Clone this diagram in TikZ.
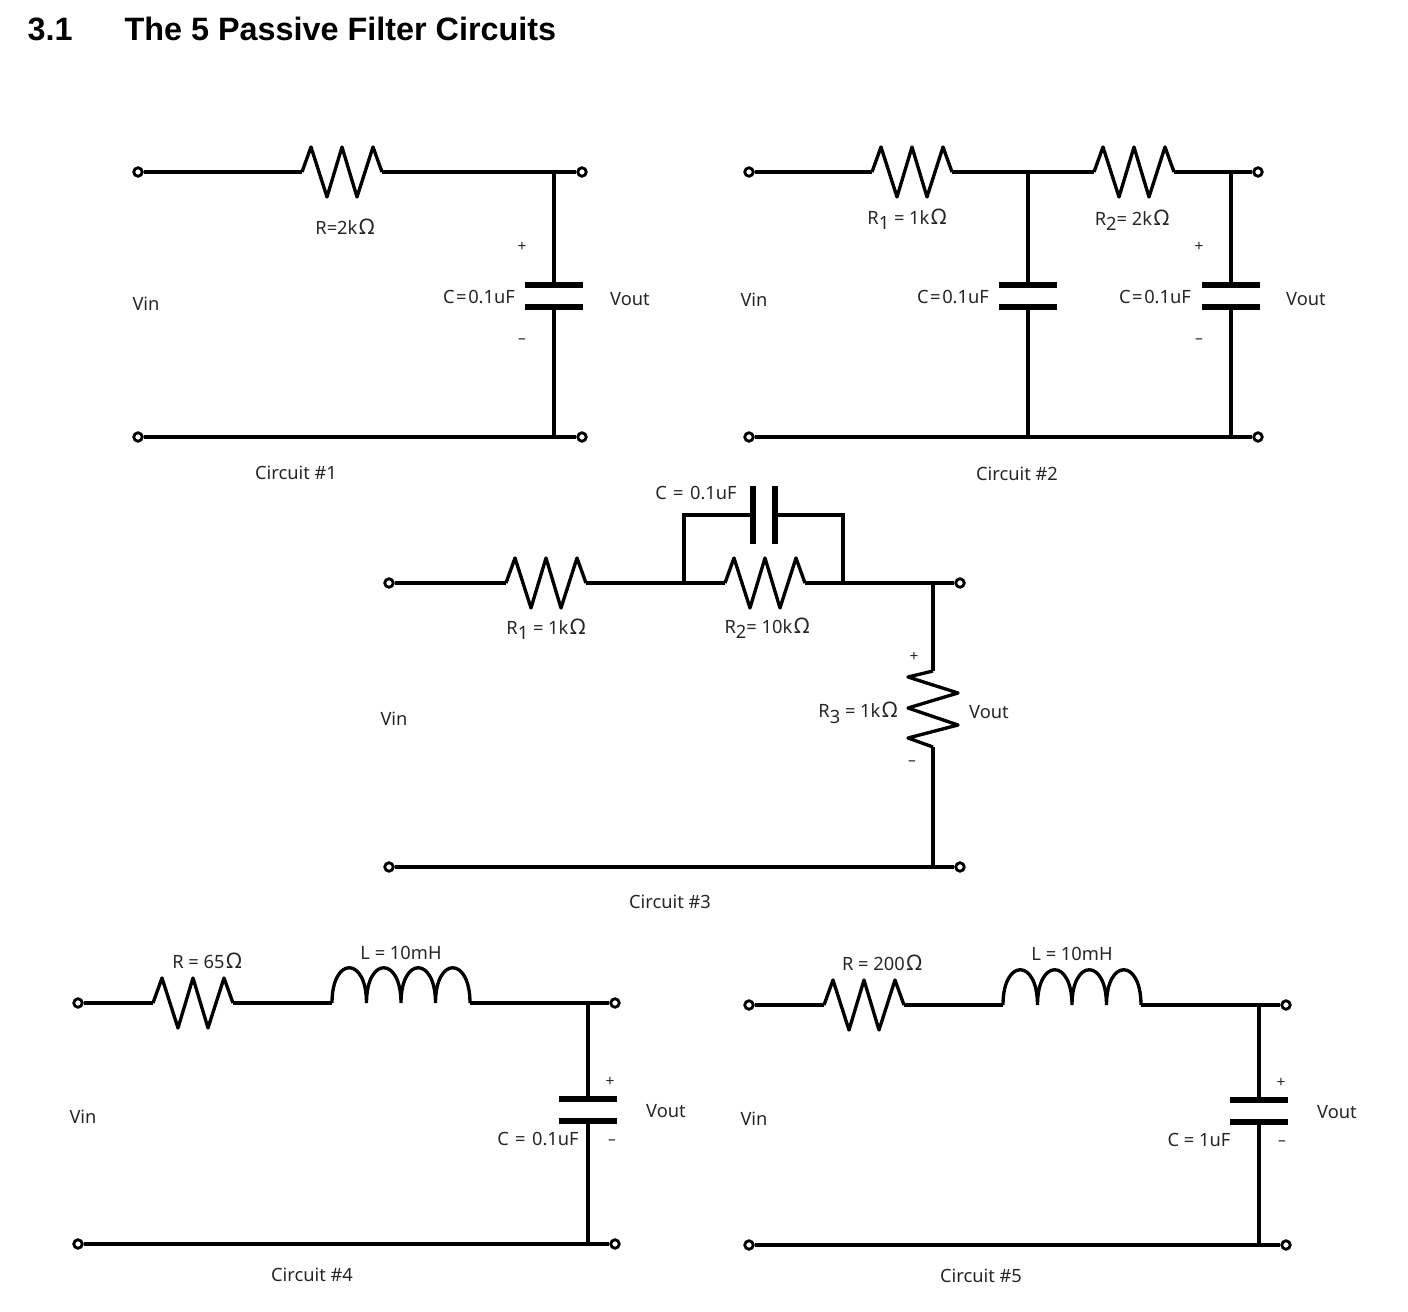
\documentclass[tikz,border=0pt]{standalone}
\usepackage{fontspec}
\setmainfont{Noto Sans}
\newfontfamily\headfont{Liberation Sans}
\newcommand{\subidx}[1]{\raisebox{-.6ex}{#1}}
\newcommand{\eqk}{\kern.45pt=\kern.45pt}
\newcommand{\ohm}{\kern.5pt\smash{\fontsize{6.1}{6}\selectfont Ω}}
\tikzset{
  hres/.pic={
    \coordinate (-l) at (0,0);
    \coordinate (-r) at (80,0);
    \draw[line join=round] (-l) -- (9,-25) -- (25,25) -- (40,-25) -- (55,25) -- (71,-25) -- (-r);
  },
  vres/.pic={
    \coordinate (-t) at (0,0);
    \coordinate (-b) at (0,76);
    \draw[line join=round] (-t) -- (-25,6) -- (25,22) -- (-25,37) -- (25,54) -- (-25,67) -- (-b);
  },
  hcap/.pic={
    \coordinate (-t) at (0,-11);
    \coordinate (-b) at (0,11);
    \draw[line width=1.7pt] (-29,-11) -- (29,-11);
    \draw[line width=1.7pt] (-29,11) -- (29,11);
  },
  vcap/.pic={
    \coordinate (-l) at (-11,0);
    \coordinate (-r) at (11,0);
    \draw[line width=1.7pt] (-11,-29) -- (-11,29);
    \draw[line width=1.7pt] (11,-29) -- (11,29);
  },
  coil/.pic={
    \coordinate (-l) at (0,0);
    \coordinate (-r) at (138,0);
    \draw (-l) .. controls (0,-47) and (34.5,-47) .. (34.5,0)
      .. controls (34.5,-47) and (69,-47) .. (69,0)
      .. controls (69,-47) and (103.5,-47) .. (103.5,0)
      .. controls (103.5,-47) and (138,-47) .. (-r);
  },
}
\begin{document}
\begin{tikzpicture}[x=0.01cm, y=-0.01cm, line width=0.95pt,
    term/.style={circle, draw, fill=white, inner sep=0pt, minimum size=0.085cm, line width=0.8pt},
    lab/.style={inner sep=0pt, text=black!85, yshift=-0.01cm, font=\fontsize{5.2}{6}\selectfont},
    sign/.style={inner sep=0pt, text=black!85, yshift=-0.01cm, font=\fontsize{4.4}{5}\selectfont},
    head/.style={inner sep=0pt, anchor=base west, font=\headfont\bfseries\fontsize{9.2}{11}\selectfont}]
  \useasboundingbox (0,0) rectangle (1408,1312);
  \node (secnum) at (26, 41) [head] {3.1};
  \node (title) at (123, 41) [head] {The 5 Passive Filter Circuits};

  % circuit 1
  \node (a1) at (138, 172) [term] {};
  \node (b1) at (582, 172) [term] {};
  \node (c1) at (138, 437) [term] {};
  \node (d1) at (582, 437) [term] {};
  \coordinate (j1) at (554, 172);
  \coordinate (k1) at (554, 437);
  \pic (r1) at (302, 172) {hres};
  \pic (cap1) at (554, 296) {hcap};
  \draw (a1) to (r1-l);
  \draw (r1-r) to (b1);
  \draw (j1) to (cap1-t);
  \draw (cap1-b) to (k1);
  \draw (c1) to (d1);
  \node (r1lab) at (345, 227) [lab] {R=2k\ohm};
  \node (cap1lab) at (479, 296) [lab] {C\eqk 0.1uF};
  \node (plus1) at (522, 246) [sign] {+};
  \node (minus1) at (522, 340) [sign] {–};
  \node (vin1) at (146, 303) [lab] {Vin};
  \node (vout1) at (630, 298) [lab] {Vout};
  \node (name1) at (296, 472) [lab] {Circuit \#1};

  % circuit 2
  \node (a2) at (749, 172) [term] {};
  \node (b2) at (1258, 172) [term] {};
  \node (c2) at (749, 437) [term] {};
  \node (d2) at (1258, 437) [term] {};
  \coordinate (j2) at (1028, 172);
  \coordinate (k2) at (1028, 437);
  \coordinate (m2) at (1231, 172);
  \coordinate (n2) at (1231, 437);
  \pic (r2a) at (872, 172) {hres};
  \pic (r2b) at (1094, 172) {hres};
  \pic (cap2a) at (1028, 296) {hcap};
  \pic (cap2b) at (1231, 296) {hcap};
  \draw (a2) to (r2a-l);
  \draw (r2a-r) to (r2b-l);
  \draw (r2b-r) to (b2);
  \draw (j2) to (cap2a-t);
  \draw (cap2a-b) to (k2);
  \draw (m2) to (cap2b-t);
  \draw (cap2b-b) to (n2);
  \draw (c2) to (d2);
  \node (r2alab) at (907, 219) [lab] {R\subidx{1} = 1k\ohm};
  \node (r2blab) at (1132, 220) [lab] {R\subidx{2}= 2k\ohm};
  \node (cap2alab) at (953, 296) [lab] {C\eqk 0.1uF};
  \node (cap2blab) at (1155, 296) [lab] {C\eqk 0.1uF};
  \node (plus2) at (1199, 246) [sign] {+};
  \node (minus2) at (1199, 340) [sign] {–};
  \node (vin2) at (754, 299) [lab] {Vin};
  \node (vout2) at (1306, 298) [lab] {Vout};
  \node (name2) at (1017, 473) [lab] {Circuit \#2};

  % circuit 3
  \node (a3) at (389, 583) [term] {};
  \node (b3) at (960, 583) [term] {};
  \node (c3) at (389, 867) [term] {};
  \node (d3) at (960, 867) [term] {};
  \coordinate (j3) at (684, 583);
  \coordinate (k3) at (843, 583);
  \coordinate (m3) at (684, 515);
  \coordinate (n3) at (843, 515);
  \coordinate (p3) at (933, 583);
  \coordinate (q3) at (933, 867);
  \pic (r3a) at (506, 583) {hres};
  \pic (r3b) at (725, 583) {hres};
  \pic (r3c) at (933, 671) {vres};
  \pic (cap3) at (764, 515) {vcap};
  \draw (a3) to (r3a-l);
  \draw (r3a-r) to (r3b-l);
  \draw (r3b-r) to (b3);
  \draw (j3) to (m3) to (cap3-l);
  \draw (cap3-r) to (n3) to (k3);
  \draw (p3) to (r3c-t);
  \draw (r3c-b) to (q3);
  \draw (c3) to (d3);
  \node (cap3lab) at (696, 492) [lab] {C \eqk{} 0.1uF};
  \node (r3alab) at (546, 629) [lab] {R\subidx{1} = 1k\ohm};
  \node (r3blab) at (767, 628) [lab] {R\subidx{2}= 10k\ohm};
  \node (r3clab) at (858, 713) [lab] {R\subidx{3} = 1k\ohm};
  \node (plus3) at (914, 656) [sign] {+};
  \node (minus3) at (912, 762) [sign] {–};
  \node (vin3) at (394, 718) [lab] {Vin};
  \node (vout3) at (989, 711) [lab] {Vout};
  \node (name3) at (670, 901) [lab] {Circuit \#3};

  % circuit 4
  \node (a4) at (78, 1003) [term] {};
  \node (b4) at (615, 1003) [term] {};
  \node (c4) at (78, 1244) [term] {};
  \node (d4) at (615, 1244) [term] {};
  \coordinate (j4) at (588, 1003);
  \coordinate (k4) at (588, 1244);
  \pic (r4) at (153, 1003) {hres};
  \pic (l4) at (332, 1003) {coil};
  \pic (cap4) at (588, 1110) {hcap};
  \draw (a4) to (r4-l);
  \draw (r4-r) to (l4-l);
  \draw (l4-r) to (b4);
  \draw (j4) to (cap4-t);
  \draw (cap4-b) to (k4);
  \draw (c4) to (d4);
  \node (r4lab) at (207, 961) [lab] {R = 65\ohm};
  \node (l4lab) at (401, 952) [lab] {L = 10mH};
  \node (cap4lab) at (538, 1138) [lab] {C \eqk{} 0.1uF};
  \node (plus4) at (610, 1081) [sign] {+};
  \node (minus4) at (612, 1141) [sign] {–};
  \node (vin4) at (83, 1116) [lab] {Vin};
  \node (vout4) at (666, 1110) [lab] {Vout};
  \node (name4) at (312, 1274) [lab] {Circuit \#4};

  % circuit 5
  \node (a5) at (749, 1005) [term] {};
  \node (b5) at (1286, 1005) [term] {};
  \node (c5) at (749, 1245) [term] {};
  \node (d5) at (1286, 1245) [term] {};
  \coordinate (j5) at (1259, 1005);
  \coordinate (k5) at (1259, 1245);
  \pic (r5) at (824, 1005) {hres};
  \pic (l5) at (1003, 1005) {coil};
  \pic (cap5) at (1259, 1111) {hcap};
  \draw (a5) to (r5-l);
  \draw (r5-r) to (l5-l);
  \draw (l5-r) to (b5);
  \draw (j5) to (cap5-t);
  \draw (cap5-b) to (k5);
  \draw (c5) to (d5);
  \node (r5lab) at (882, 963) [lab] {R = 200\ohm};
  \node (l5lab) at (1072, 953) [lab] {L = 10mH};
  \node (cap5lab) at (1199, 1139) [lab] {C = 1uF};
  \node (plus5) at (1281, 1082) [sign] {+};
  \node (minus5) at (1282, 1142) [sign] {–};
  \node (vin5) at (754, 1118) [lab] {Vin};
  \node (vout5) at (1337, 1111) [lab] {Vout};
  \node (name5) at (981, 1275) [lab] {Circuit \#5};
\end{tikzpicture}
\end{document}
